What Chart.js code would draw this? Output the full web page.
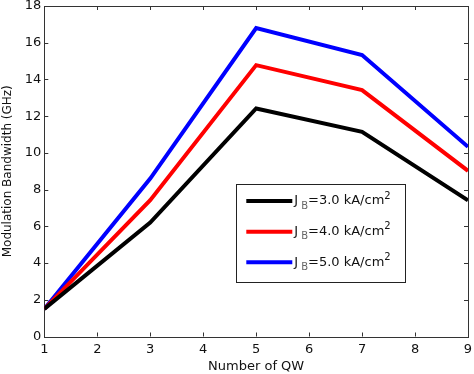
<!DOCTYPE html>
<html>
<head>
<meta charset="utf-8">
<script src="https://cdn.jsdelivr.net/npm/chart.js@4/dist/chart.umd.min.js"></script>
<style>
html,body{margin:0;padding:0;background:#fff;}
#wrap{width:474px;height:374px;position:relative;}
</style>
</head>
<body>
<div id="wrap"><canvas id="c" width="474" height="374"></canvas></div>
<script>
// ---- data ----
const numQW = [1, 3, 5, 7, 9];
const bw30 = [1.5, 6.2, 12.42, 11.15, 7.42];
const bw40 = [1.5, 7.42, 14.78, 13.42, 9.02];
const bw50 = [1.5, 8.6, 16.8, 15.33, 10.33];
const currents = ['3.0', '4.0', '5.0'];
const seriesColors = ['#000000', '#ff0000', '#0000ff'];
const xTicks = [1, 2, 3, 4, 5, 6, 7, 8, 9];
const yTicks = [0, 2, 4, 6, 8, 10, 12, 14, 16, 18];
const xTitle = 'Number of QW';
const yTitle = 'Modulation Bandwidth (GHz)';

const FONT = "'DejaVu Sans', sans-serif";
const series = [bw30, bw40, bw50];

const datasets = series.map((arr, i) => ({
  label: 'J_B=' + currents[i] + ' kA/cm2',
  data: numQW.map((q, k) => ({x: q, y: arr[k]})),
  borderColor: seriesColors[i],
  backgroundColor: seriesColors[i],
  borderWidth: 4,
  pointRadius: 0,
  tension: 0,
  fill: false,
  borderJoinStyle: 'miter'
}));

function zeroPad(s) {
  s.paddingTop = 0; s.paddingBottom = 0; s.paddingLeft = 0; s.paddingRight = 0;
}

const framePlugin = {
  id: 'frame',
  beforeDatasetsDraw(chart) {
    const {ctx, chartArea: ca, scales} = chart;
    ctx.save();
    ctx.strokeStyle = '#333';
    ctx.lineWidth = 1;
    ctx.beginPath();
    const tl = 4;
    xTicks.forEach(v => {
      const px = Math.round(scales.x.getPixelForValue(v)) + 0.5;
      ctx.moveTo(px, ca.bottom); ctx.lineTo(px, ca.bottom - tl);
      ctx.moveTo(px, ca.top); ctx.lineTo(px, ca.top + tl);
    });
    yTicks.forEach(v => {
      const py = Math.round(scales.y.getPixelForValue(v)) + 0.5;
      ctx.moveTo(ca.left, py); ctx.lineTo(ca.left + tl, py);
      ctx.moveTo(ca.right, py); ctx.lineTo(ca.right - tl, py);
    });
    ctx.stroke();
    ctx.strokeRect(Math.round(ca.left) + 0.5, Math.round(ca.top) + 0.5,
      Math.round(ca.right - ca.left), Math.round(ca.bottom - ca.top));
    ctx.restore();
  },
  afterDraw(chart) {
    const {ctx, chartArea: ca} = chart;
    const bx = ca.left + 192, by = ca.top + 178, bw = 169, bh = 98;
    ctx.save();
    ctx.fillStyle = '#fff';
    ctx.fillRect(bx, by, bw, bh);
    ctx.strokeStyle = '#222';
    ctx.lineWidth = 1;
    ctx.strokeRect(Math.round(bx) + 0.5, Math.round(by) + 0.5, bw, bh);
    const rows = [17, 47.7, 78.3];
    currents.forEach((c, i) => {
      const y = by + rows[i];
      ctx.strokeStyle = seriesColors[i];
      ctx.lineWidth = 4;
      ctx.beginPath();
      ctx.moveTo(bx + 10, y); ctx.lineTo(bx + 56, y);
      ctx.stroke();
      ctx.fillStyle = '#111';
      ctx.textBaseline = 'middle';
      ctx.textAlign = 'left';
      let x = bx + 58;
      ctx.font = '13px ' + FONT;
      ctx.fillText('J', x, y);
      x += ctx.measureText('J').width + 3;
      ctx.font = '10px ' + FONT;
      ctx.fillStyle = '#666';
      ctx.fillText('B', x, y + 5);
      x += ctx.measureText('B').width;
      ctx.fillStyle = '#111';
      ctx.font = '13px ' + FONT;
      const main = '=' + c + ' kA/cm';
      ctx.fillText(main, x, y);
      x += ctx.measureText(main).width;
      ctx.font = '10px ' + FONT;
      ctx.fillText('2', x, y - 5);
    });
    ctx.restore();
  }
};

new Chart(document.getElementById('c'), {
  type: 'line',
  data: {datasets},
  options: {
    responsive: false,
    animation: false,
    devicePixelRatio: 1,
    layout: {padding: {top: 6, right: 6, left: 0, bottom: 0}, autoPadding: false},
    plugins: {legend: {display: false}, tooltip: {enabled: false}},
    scales: {
      x: {
        type: 'linear',
        min: 1, max: 9,
        afterBuildTicks: s => { s.ticks = xTicks.map(v => ({value: v})); },
        afterFit: s => { s.height = 37.5; zeroPad(s); },
        grid: {display: false, drawTicks: false},
        border: {display: false},
        ticks: {
          color: '#111', padding: 5, maxRotation: 0, autoSkip: false,
          font: {family: FONT, size: 13},
          callback: v => String(v)
        },
        title: {
          display: true, text: xTitle, color: '#111',
          font: {family: FONT, size: 13, lineHeight: 1.1},
          padding: {top: 0, bottom: 0}
        }
      },
      y: {
        type: 'linear',
        min: 0, max: 18,
        afterBuildTicks: s => { s.ticks = yTicks.map(v => ({value: v})); },
        afterFit: s => { s.width = 44.3; zeroPad(s); },
        grid: {display: false, drawTicks: false},
        border: {display: false},
        ticks: {
          color: '#111', padding: 3, autoSkip: false,
          font: {family: FONT, size: 13},
          callback: v => String(v)
        },
        title: {
          display: true, text: yTitle, color: '#111',
          font: {family: FONT, size: 12, lineHeight: 1.2},
          padding: {top: 1, bottom: 0}
        }
      }
    }
  },
  plugins: [framePlugin]
});
</script>
</body>
</html>
